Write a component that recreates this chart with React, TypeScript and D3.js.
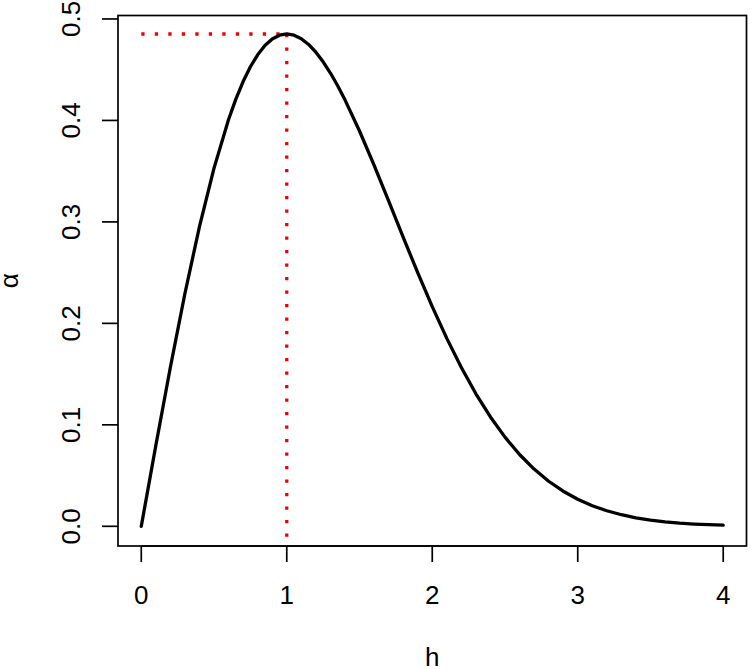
import React from "react";
import * as d3 from "d3";

const hValues: number[] = [
  0, 0.1, 0.2, 0.3, 0.4, 0.5, 0.6, 0.65, 0.7, 0.75, 0.8, 0.85, 0.9, 0.95,
  1.0, 1.05, 1.1, 1.15, 1.2, 1.25, 1.3, 1.35, 1.4, 1.5, 1.6, 1.7, 1.8, 1.9,
  2.0, 2.1, 2.2, 2.3, 2.4, 2.5, 2.6, 2.7, 2.8, 2.9, 3.0, 3.1, 3.2, 3.3, 3.4,
  3.5, 3.6, 3.7, 3.8, 3.9, 4.0,
];
const alphaValues: number[] = [
  0, 0.0796, 0.1568, 0.2294, 0.2954, 0.353, 0.4009, 0.421, 0.4383, 0.4529,
  0.4647, 0.4738, 0.4802, 0.484, 0.4852, 0.484, 0.4805, 0.4749, 0.4673, 0.4578,
  0.4467, 0.4342, 0.4203, 0.3896, 0.3559, 0.3206, 0.285, 0.25, 0.2165, 0.1852,
  0.1565, 0.1306, 0.1078, 0.0879, 0.0708, 0.0564, 0.0444, 0.0346, 0.0267, 0.0203,
  0.0153, 0.0114, 0.0084, 0.0061, 0.0044, 0.0031, 0.0022, 0.0016, 0.0011,
];
const xTicks: number[] = [0, 1, 2, 3, 4];
const yTicks: number[] = [0, 0.1, 0.2, 0.3, 0.4, 0.5];
const peakH = 1;
const peakAlpha = 0.4852;

const W = 752;
const H = 669;
const FONT = "'Liberation Sans', Arial, Helvetica, sans-serif";
const FS = 26;

export default function App() {
  const left = 118;
  const right = 746.5;
  const top = 15.5;
  const bottom = 546;
  const x = d3.scaleLinear().domain([-0.16, 4.16]).range([left, right]);
  const y = d3.scaleLinear().domain([-0.01941, 0.50341]).range([bottom, top]);
  const pts: [number, number][] = hValues.map((h, i) => [h, alphaValues[i]]);
  const line = d3
    .line<[number, number]>()
    .x((d) => x(d[0]))
    .y((d) => y(d[1]));

  return (
    <svg
      width={W}
      height={H}
      style={{ position: "absolute", left: 0, top: 0, background: "#fff" }}
      fontFamily={FONT}
    >
      <rect x={0} y={0} width={W} height={H} fill="#fff" />
      {/* dotted reference lines */}
      <line
        x1={x(0)}
        x2={x(peakH)}
        y1={y(peakAlpha)}
        y2={y(peakAlpha)}
        stroke="#e00"
        strokeWidth={3.3}
        strokeDasharray="3.3 10.2"
      />
      <line
        x1={x(peakH)}
        x2={x(peakH)}
        y1={y(peakAlpha)}
        y2={bottom}
        stroke="#e00"
        strokeWidth={3.3}
        strokeDasharray="3.3 10.2"
      />
      {/* curve */}
      <path
        d={line(pts) || ""}
        fill="none"
        stroke="#000"
        strokeWidth={3.3}
        strokeLinejoin="round"
        strokeLinecap="round"
      />
      {/* box */}
      <rect
        x={left}
        y={top}
        width={right - left}
        height={bottom - top}
        fill="none"
        stroke="#000"
        strokeWidth={1.7}
      />
      {/* x axis */}
      <line x1={x(0)} x2={x(4)} y1={bottom} y2={bottom} stroke="#000" strokeWidth={1.7} />
      {xTicks.map((t) => (
        <g key={"x" + t}>
          <line x1={x(t)} x2={x(t)} y1={bottom} y2={bottom + 16} stroke="#000" strokeWidth={1.7} />
          <text x={x(t)} y={604} fontSize={FS} textAnchor="middle" fill="#000">
            {String(t)}
          </text>
        </g>
      ))}
      {/* y axis */}
      {yTicks.map((t) => (
        <g key={"y" + t}>
          <line x1={left} x2={left - 16} y1={y(t)} y2={y(t)} stroke="#000" strokeWidth={1.7} />
          <text
            transform={`translate(80,${y(t)}) rotate(-90)`}
            fontSize={FS}
            textAnchor="middle"
            fill="#000"
          >
            {t.toFixed(1)}
          </text>
        </g>
      ))}
      {/* axis titles */}
      <text x={(left + right) / 2} y={666} fontSize={FS} textAnchor="middle" fill="#000">
        h
      </text>
      <text
        transform={`translate(18,${(top + bottom) / 2}) rotate(-90)`}
        fontSize={FS}
        textAnchor="middle"
        fill="#000"
      >
        α
      </text>
    </svg>
  );
}
